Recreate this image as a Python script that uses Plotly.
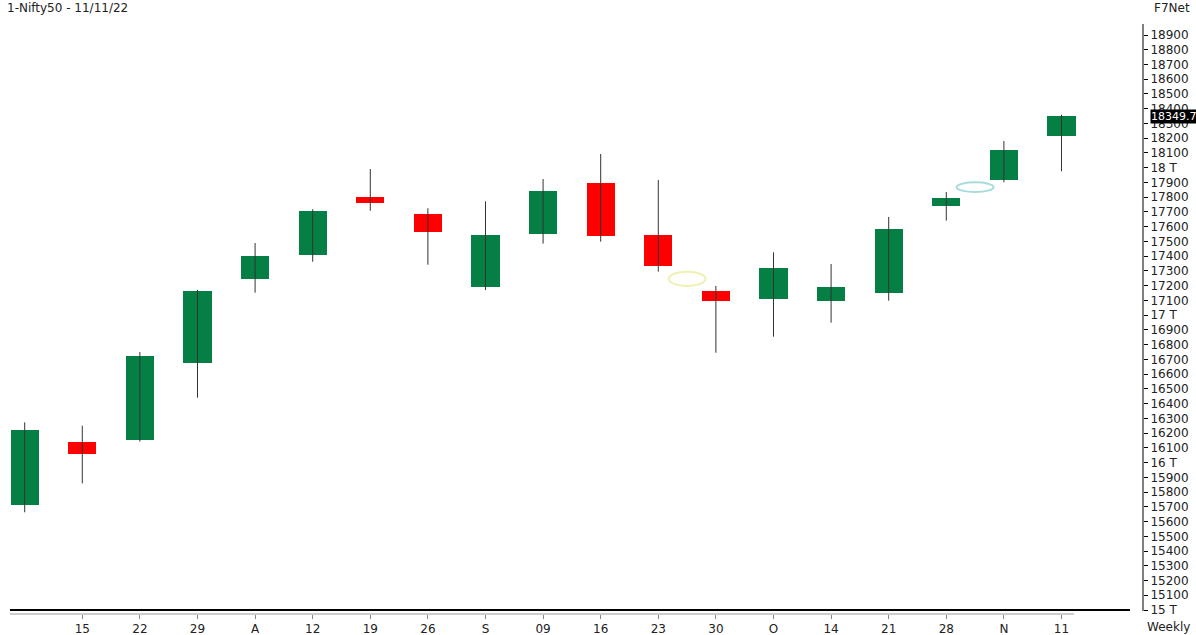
import plotly.graph_objects as go

# ---- data (weekly Nifty50) ----
week_labels = ["", "15", "22", "29", "A", "12", "19", "26", "S", "09",
               "16", "23", "30", "O", "14", "21", "28", "N", "11"]
open_ = [15710, 16140, 16155, 16673, 17247, 17410, 17801, 17686, 17193, 17552,
         17898, 17544, 17166, 17111, 17098, 17152, 17740, 17919, 18217]
high = [16273, 16250, 16750, 17171, 17489, 17718, 17991, 17725, 17772, 17923,
        18093, 17917, 17198, 17426, 17347, 17666, 17835, 18181, 18359]
low = [15663, 15859, 16142, 16440, 17152, 17362, 17708, 17342, 17170, 17485,
       17498, 17295, 16745, 16854, 16949, 17098, 17641, 17901, 17976]
close = [16221, 16056, 16723, 17164, 17401, 17706, 17763, 17566, 17542, 17842,
         17539, 17333, 17098, 17320, 17191, 17584, 17797, 18120, 18349.7]
y_tick_vals = list(range(15000, 19000, 100))
y_tick_text = [f"{v // 1000} T" if v % 1000 == 0 else str(v) for v in y_tick_vals]

UP = "#067f45"
DOWN = "#ff0000"
FONT = "Verdana, DejaVu Sans, sans-serif"

idx = list(range(len(open_)))

# wicks
wx, wy = [], []
for i in idx:
    wx += [i, i, None]
    wy += [low[i], high[i], None]

fig = go.Figure()
fig.add_trace(go.Scatter(x=wx, y=wy, mode="lines",
                         line=dict(color="#333333", width=1),
                         hoverinfo="skip", showlegend=False))
fig.add_trace(go.Bar(
    x=idx,
    base=[min(o, c) for o, c in zip(open_, close)],
    y=[abs(c - o) for o, c in zip(open_, close)],
    width=0.49,
    marker=dict(color=[UP if c >= o else DOWN for o, c in zip(open_, close)],
                line=dict(width=0)),
    showlegend=False, hoverinfo="skip"))

shapes = []
# gap markers (ellipses)
for i in range(len(idx) - 1):
    if low[i + 1] > high[i]:
        shapes.append(dict(type="circle", xref="x", yref="y",
                           x0=i + 0.18, x1=i + 0.82, y0=high[i], y1=low[i + 1],
                           line=dict(color="#a8dcdc", width=2)))
    elif high[i + 1] < low[i]:
        shapes.append(dict(type="circle", xref="x", yref="y",
                           x0=i + 0.18, x1=i + 0.82, y0=high[i + 1], y1=low[i],
                           line=dict(color="#f0f0b0", width=2)))

# bottom lines and right axis line
shapes.append(dict(type="line", xref="paper", yref="paper", x0=0, x1=0.939,
                   y0=0, y1=0, line=dict(color="#999999", width=1)))
shapes.append(dict(type="line", xref="paper", yref="y", x0=0, x1=0.9885,
                   y0=15000, y1=15000, line=dict(color="#000000", width=2)))
shapes.append(dict(type="line", xref="paper", yref="paper", x0=1, x1=1,
                   y0=0.005, y1=1, line=dict(color="#000000", width=1)))

annotations = [
    dict(text="1-Nifty50 - 11/11/22", xref="paper", yref="paper",
         x=-0.0044, y=1.027, xanchor="left", yanchor="middle", showarrow=False,
         font=dict(family=FONT, size=12, color="#222222")),
    dict(text="F7Net", xref="paper", yref="paper",
         x=1.0433, y=1.027, xanchor="right", yanchor="middle", showarrow=False,
         font=dict(family=FONT, size=12, color="#222222")),
    dict(text="Weekly", xref="paper", yref="paper",
         x=1.0018, y=-0.022, xanchor="left", yanchor="middle", showarrow=False,
         font=dict(family=FONT, size=12, color="#222222")),
    dict(text=f"{close[-1]}", xref="paper", yref="y",
         x=1.0058, y=close[-1], xanchor="left", yanchor="middle", showarrow=False,
         bgcolor="#000000", borderpad=0,
         font=dict(family=FONT, size=11, color="#ffffff")),
]

fig.update_layout(
    width=1196, height=635,
    margin=dict(l=10, r=53, t=24, b=21, autoexpand=False),
    paper_bgcolor="white", plot_bgcolor="white",
    bargap=0,
    shapes=shapes, annotations=annotations,
    xaxis=dict(range=[-0.255, 19.415], tickmode="array",
               tickvals=idx[1:], ticktext=week_labels[1:],
               ticks="outside", ticklen=4, tickcolor="#888888", tickwidth=1,
               showline=False, showgrid=False, zeroline=False, automargin=False,
               tickfont=dict(family=FONT, size=12, color="#222222")),
    yaxis=dict(side="right", range=[14973.0, 18974.6], tickmode="array",
               tickvals=y_tick_vals, ticktext=y_tick_text,
               ticks="outside", ticklen=4, tickcolor="#000000", tickwidth=1,
               showline=False, showgrid=False, zeroline=False, automargin=False,
               tickfont=dict(family=FONT, size=12, color="#222222")),
)

fig.write_html("out.html", config={"displayModeBar": False},
               post_script="document.body.style.margin='0';")
